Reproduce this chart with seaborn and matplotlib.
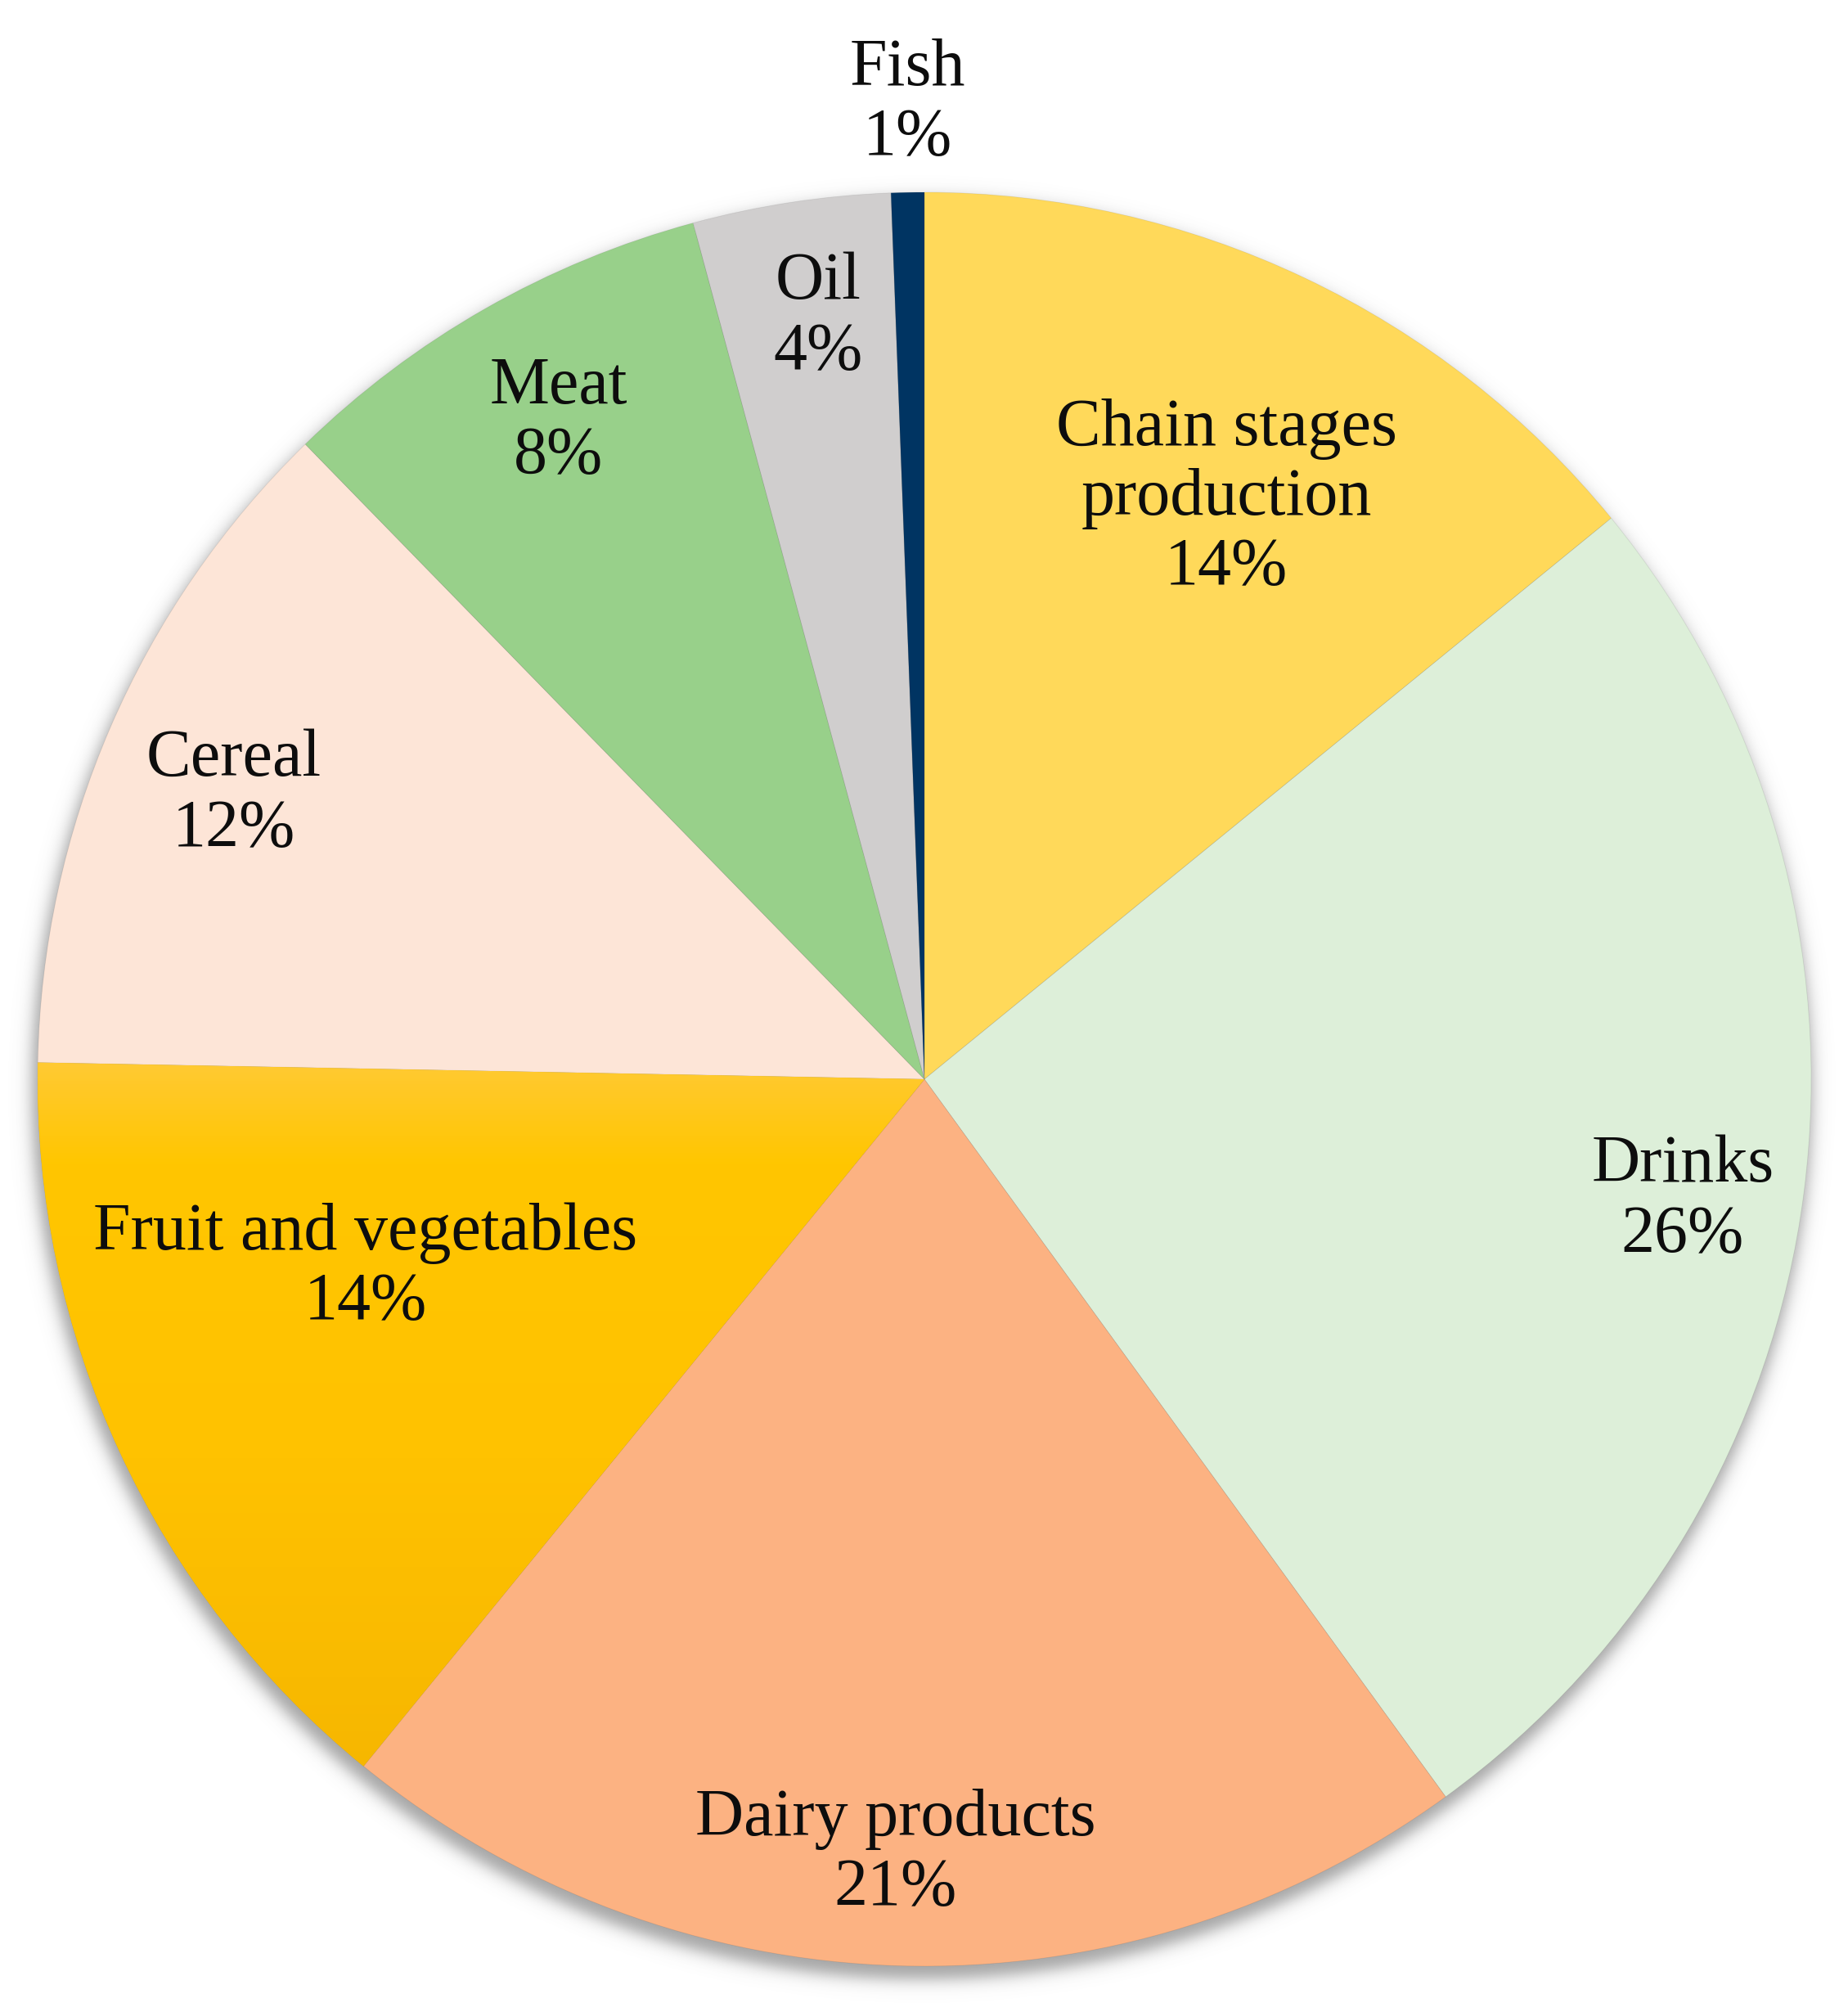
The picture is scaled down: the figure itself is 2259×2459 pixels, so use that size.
import numpy as np
import matplotlib
matplotlib.use("Agg")
import matplotlib.pyplot as plt
from matplotlib.colors import LinearSegmentedColormap
import seaborn as sns

# ── Data (clockwise from 12 o'clock) ─────────────────────────────────────────
categories = ["Chain stages\nproduction", "Drinks", "Dairy products",
              "Fruit and vegetables", "Cereal", "Meat", "Oil", "Fish"]
shares = [14.1, 25.9, 20.9, 14.4, 12.4, 8.1, 3.6, 0.6]
colors = ["#FFD95A", "#DDEFD9", "#FCB282", "#FFC600",
          "#FDE5D7", "#98D08A", "#D0CECE", "#003462"]

# label placement: radius as fraction of R, angular nudge (deg, clockwise)
label_r = [0.738, 0.866, 0.874, 0.665, 0.842, 0.848, 0.867, 1.10]
label_shift = [2.1, 1.7, 0.5, 6.2, -1.0, 0.6, 0.7, 0.1]

W, H = 2259, 2459
CX, CY, R = 1130, H - 1319, 1084

sns.set_theme(style="white")
plt.rcParams["font.family"] = ["Liberation Serif", "DejaVu Serif"]

fig = plt.figure(figsize=(W / 100, H / 100), dpi=100)
ax = fig.add_axes([0, 0, 1, 1])

# soft drop shadow: blurred disc, shifted a little down
xx, yy = np.meshgrid(np.arange(W) + 0.5, np.arange(H) + 0.5)
d = np.hypot(xx - (CX - 3), yy - (CY - 12))
z = (d - (R + 4)) / 10.0
shadow_a = 0.55 / (1.0 + np.exp(1.702 * z))
shadow = np.zeros((H, W, 4))
shadow[..., :3] = 0.35
shadow[..., 3] = shadow_a
ax.imshow(shadow, origin="lower", extent=[0, W, 0, H], aspect="auto",
          interpolation="nearest", zorder=1)

pal = sns.color_palette(colors)
wedges, _ = ax.pie(shares, colors=pal, startangle=90, counterclock=False,
                   center=(CX, CY), radius=R, normalize=True,
                   wedgeprops=dict(linewidth=0.6, edgecolor=(0, 0, 0, 0.08)))
for w in wedges:
    w.set_zorder(2)

# vertical gradient on the fruit & vegetables slice
fv = wedges[3]
grad_cmap = LinearSegmentedColormap.from_list(
    "fv", [(0, "#F6B600"), (0.45, "#FFC200"), (0.85, "#FFC600"), (1, "#FFCA38")])
grad = np.linspace(0, 1, 256).reshape(-1, 1)
img = ax.imshow(grad, cmap=grad_cmap, origin="lower", aspect="auto",
                extent=[CX - R, CX + 5, CY - 0.8 * R, CY + 0.03 * R], zorder=3)
img.set_clip_path(fv)

for w, name, val, rr, sh in zip(wedges, categories, shares, label_r, label_shift):
    mid = np.deg2rad((w.theta1 + w.theta2) / 2 - sh)
    x = CX + rr * R * np.cos(mid)
    y = CY + rr * R * np.sin(mid)
    ax.text(x, y, f"{name}\n{val:.0f}%", ha="center", va="center",
            fontsize=59, color="#0D0D0D", linespacing=1.17, zorder=5)

ax.set_xlim(0, W)
ax.set_ylim(0, H)
ax.set_aspect("auto")
ax.axis("off")

fig.savefig("out.png", dpi=100, facecolor="white")
